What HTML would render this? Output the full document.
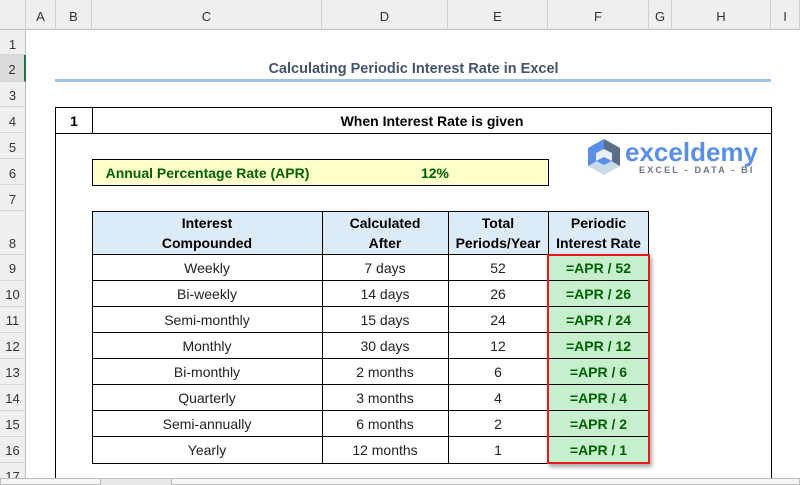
<!DOCTYPE html>
<html><head><meta charset="utf-8"><style>
*{margin:0;padding:0;box-sizing:border-box}
html,body{width:800px;height:485px;overflow:hidden}
body{background:#fff;position:relative;font-family:"Liberation Sans",sans-serif;color:#000}
div{position:absolute}
.ch{top:0;height:30px;background:#efefef;border-right:1px solid #d0d0d0;border-bottom:1px solid #c0c0c0;font-size:13px;color:#333;text-align:center;line-height:34px}
.rh{left:0;width:26px;background:#efefef;border-bottom:1px solid #d4d4d4;border-right:1px solid #c0c0c0;font-size:13px;color:#333;text-align:center}
.c{display:flex;align-items:center;justify-content:center;font-size:14px;text-align:center;line-height:20px}
.b{font-weight:bold}
</style></head><body>
<div class="ch" style="left:0;width:26px"></div>
<div class="ch" style="left:26px;width:30px">A</div>
<div class="ch" style="left:56px;width:36px">B</div>
<div class="ch" style="left:92px;width:230px">C</div>
<div class="ch" style="left:322px;width:126px">D</div>
<div class="ch" style="left:448px;width:100px">E</div>
<div class="ch" style="left:548px;width:101px">F</div>
<div class="ch" style="left:649px;width:23px">G</div>
<div class="ch" style="left:672px;width:99px">H</div>
<div class="ch" style="left:771px;width:29px">I</div>

<div class="rh" style="top:30px;height:25px;line-height:30px">1</div>
<div class="rh" style="top:55px;height:27px;line-height:30px;background:#dcdcdc;border-right:2px solid #217346">2</div>
<div class="rh" style="top:82px;height:25px;line-height:28px">3</div>
<div class="rh" style="top:107px;height:26px;line-height:30px">4</div>
<div class="rh" style="top:133px;height:26px;line-height:30px">5</div>
<div class="rh" style="top:159px;height:26px;line-height:30px">6</div>
<div class="rh" style="top:185px;height:26px;line-height:30px">7</div>
<div class="rh" style="top:211px;height:44px;line-height:66px">8</div>
<div class="rh" style="top:255px;height:26px;line-height:28px">9</div>
<div class="rh" style="top:281px;height:26px;line-height:28px">10</div>
<div class="rh" style="top:307px;height:26px;line-height:28px">11</div>
<div class="rh" style="top:333px;height:26px;line-height:28px">12</div>
<div class="rh" style="top:359px;height:26px;line-height:28px">13</div>
<div class="rh" style="top:385px;height:26px;line-height:28px">14</div>
<div class="rh" style="top:411px;height:26px;line-height:28px">15</div>
<div class="rh" style="top:437px;height:26px;line-height:28px">16</div>
<div class="rh" style="top:463px;height:26px;line-height:28px">17</div>

<div class="c b" style="left:56px;top:56px;width:715px;height:26px;font-size:14.5px;color:#44546a">Calculating Periodic Interest Rate in Excel</div>
<div style="left:55px;top:79px;width:716px;height:3px;background:#9dc3e6"></div>

<div style="left:55px;top:107px;width:717px;height:380px;border:1px solid #000;border-bottom:none"></div>
<div style="left:55px;top:133px;width:717px;height:1px;background:#000"></div>
<div style="left:92px;top:107px;width:1px;height:26px;background:#000"></div>
<div class="c b" style="left:56px;top:108px;width:36px;height:25px">1</div>
<div class="c b" style="left:93px;top:108px;width:678px;height:25px">When Interest Rate is given</div>

<div class="c b" style="left:92px;top:159px;width:231px;height:27px;background:#ffffcc;border:1px solid #000;color:#006100">Annual Percentage Rate (APR)</div>
<div class="c b" style="left:322px;top:159px;width:227px;height:27px;background:#ffffcc;border:1px solid #000;border-left:none;color:#006100">12%</div>

<!-- logo -->
<svg style="position:absolute;left:584px;top:137px" width="40" height="40" viewBox="0 0 40 40">
<polygon points="20,2 36,11 36,29 20,38 4,29 4,11" fill="#c9dbe8"/>
<polygon points="20,2 36,11 36,29 20,20" fill="#5a6e86"/>
<polygon points="4,11 20,2 20,20 4,29" fill="#5b8fe6"/>
<polygon points="12,16 20,12 28,16 28,24 20,28 12,24" fill="#e6eef7"/>
<polygon points="12,24 20,20 28,24 20,28" fill="#5b8fe6"/>
</svg>
<div style="left:625px;top:136px;font-size:26px;font-weight:bold;color:#5b8fe6;line-height:32px">exceldemy</div>
<div style="left:639px;top:165px;font-size:9px;font-weight:bold;color:#6b7480;letter-spacing:2.2px">EXCEL - DATA - BI</div>

<!-- table -->
<div style="left:92px;top:211px;width:557px;height:44px;background:#ddebf7"></div>
<div style="left:548px;top:255px;width:101px;height:208px;background:#c6efce"></div>
<div style="left:92px;top:211px;width:557px;height:253px;border:1px solid #000"></div>
<div style="left:322px;top:211px;width:1px;height:253px;background:#000"></div>
<div style="left:448px;top:211px;width:1px;height:253px;background:#000"></div>
<div style="left:548px;top:211px;width:1px;height:253px;background:#000"></div>
<div style="left:92px;top:254px;width:557px;height:1px;background:#000"></div>
<div style="left:92px;top:280px;width:557px;height:1px;background:#000"></div>
<div style="left:92px;top:306px;width:557px;height:1px;background:#000"></div>
<div style="left:92px;top:332px;width:557px;height:1px;background:#000"></div>
<div style="left:92px;top:358px;width:557px;height:1px;background:#000"></div>
<div style="left:92px;top:384px;width:557px;height:1px;background:#000"></div>
<div style="left:92px;top:410px;width:557px;height:1px;background:#000"></div>
<div style="left:92px;top:436px;width:557px;height:1px;background:#000"></div>

<div class="c b" style="left:92px;top:211px;width:230px;height:44px">Interest<br>Compounded</div>
<div class="c b" style="left:322px;top:211px;width:126px;height:44px">Calculated<br>After</div>
<div class="c b" style="left:448px;top:211px;width:100px;height:44px">Total<br>Periods/Year</div>
<div class="c b" style="left:548px;top:211px;width:101px;height:44px">Periodic<br>Interest Rate</div>

<div class="c" style="left:92px;top:255px;width:230px;height:26px;color:#222">Weekly</div>
<div class="c" style="left:92px;top:281px;width:230px;height:26px;color:#222">Bi-weekly</div>
<div class="c" style="left:92px;top:307px;width:230px;height:26px;color:#222">Semi-monthly</div>
<div class="c" style="left:92px;top:333px;width:230px;height:26px;color:#222">Monthly</div>
<div class="c" style="left:92px;top:359px;width:230px;height:26px;color:#222">Bi-monthly</div>
<div class="c" style="left:92px;top:385px;width:230px;height:26px;color:#222">Quarterly</div>
<div class="c" style="left:92px;top:411px;width:230px;height:26px;color:#222">Semi-annually</div>
<div class="c" style="left:92px;top:437px;width:230px;height:26px;color:#222">Yearly</div>

<div class="c" style="left:322px;top:255px;width:126px;height:26px;color:#222">7 days</div>
<div class="c" style="left:322px;top:281px;width:126px;height:26px;color:#222">14 days</div>
<div class="c" style="left:322px;top:307px;width:126px;height:26px;color:#222">15 days</div>
<div class="c" style="left:322px;top:333px;width:126px;height:26px;color:#222">30 days</div>
<div class="c" style="left:322px;top:359px;width:126px;height:26px;color:#222">2 months</div>
<div class="c" style="left:322px;top:385px;width:126px;height:26px;color:#222">3 months</div>
<div class="c" style="left:322px;top:411px;width:126px;height:26px;color:#222">6 months</div>
<div class="c" style="left:322px;top:437px;width:126px;height:26px;color:#222">12 months</div>

<div class="c" style="left:448px;top:255px;width:100px;height:26px;color:#222">52</div>
<div class="c" style="left:448px;top:281px;width:100px;height:26px;color:#222">26</div>
<div class="c" style="left:448px;top:307px;width:100px;height:26px;color:#222">24</div>
<div class="c" style="left:448px;top:333px;width:100px;height:26px;color:#222">12</div>
<div class="c" style="left:448px;top:359px;width:100px;height:26px;color:#222">6</div>
<div class="c" style="left:448px;top:385px;width:100px;height:26px;color:#222">4</div>
<div class="c" style="left:448px;top:411px;width:100px;height:26px;color:#222">2</div>
<div class="c" style="left:448px;top:437px;width:100px;height:26px;color:#222">1</div>

<div class="c b" style="left:548px;top:255px;width:101px;height:26px;color:#006100">=APR / 52</div>
<div class="c b" style="left:548px;top:281px;width:101px;height:26px;color:#006100">=APR / 26</div>
<div class="c b" style="left:548px;top:307px;width:101px;height:26px;color:#006100">=APR / 24</div>
<div class="c b" style="left:548px;top:333px;width:101px;height:26px;color:#006100">=APR / 12</div>
<div class="c b" style="left:548px;top:359px;width:101px;height:26px;color:#006100">=APR / 6</div>
<div class="c b" style="left:548px;top:385px;width:101px;height:26px;color:#006100">=APR / 4</div>
<div class="c b" style="left:548px;top:411px;width:101px;height:26px;color:#006100">=APR / 2</div>
<div class="c b" style="left:548px;top:437px;width:101px;height:26px;color:#006100">=APR / 1</div>

<div style="left:547px;top:254px;width:103px;height:210px;border:2px solid #e3191c;box-shadow:2px 3px 4px rgba(0,0,0,0.35)"></div>

<!-- bottom bar -->
<div style="left:0;top:478px;width:800px;height:7px;background:#e8e8e8;border-top:1px solid #bdbdbd"></div>
<div style="left:0;top:478px;width:101px;height:7px;background:#f4f4f4;border:1px solid #bdbdbd"></div>
<div style="left:171px;top:478px;width:629px;height:7px;background:#f4f4f4;border:1px solid #bdbdbd"></div>
</body></html>
